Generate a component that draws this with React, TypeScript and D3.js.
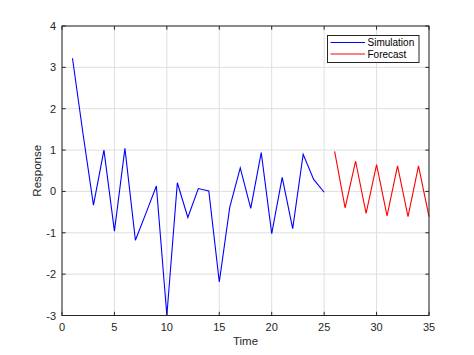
import React from "react";
import * as d3 from "d3";

const simTime = [1,2,3,4,5,6,7,8,9,10,11,12,13,14,15,16,17,18,19,20,21,22,23,24,25];
const simValues = [3.22,1.4,-0.33,1.0,-0.96,1.04,-1.18,-0.53,0.13,-3.0,0.21,-0.63,0.07,0.01,-2.19,-0.38,0.57,-0.41,0.94,-1.02,0.34,-0.9,0.9,0.29,-0.02];
const fcTime = [26,27,28,29,30,31,32,33,34,35];
const fcValues = [0.97,-0.4,0.73,-0.53,0.65,-0.59,0.62,-0.61,0.62,-0.61];
const xTicks = [0,5,10,15,20,25,30,35];
const yTicks = [-3,-2,-1,0,1,2,3,4];
const legendLabels = ["Simulation","Forecast"];
const seriesColors = ["#0000ff","#ff0000"];

const W = 474, H = 355;
const L = 62, R = 429, T = 26, B = 315.5;
const font = "'Liberation Sans', Arial, Helvetica, sans-serif";
const axisColor = "#262626";

export default function App() {
  const x = d3.scaleLinear().domain([0, 35]).range([L, R]);
  const y = d3.scaleLinear().domain([-3, 4]).range([B, T]);
  const line = d3.line<[number, number]>().x(d => x(d[0])).y(d => y(d[1]));
  const simPts = simTime.map((t, i) => [t, simValues[i]] as [number, number]);
  const fcPts = fcTime.map((t, i) => [t, fcValues[i]] as [number, number]);
  const tl = 3.7;
  const lx = 327.5, ly = 35.5, lw = 91.5, lh = 27;
  return (
    <svg width={W} height={H} style={{ position: "absolute", left: 0, top: 0 }}>
      <rect x={0} y={0} width={W} height={H} fill="#ffffff" />
      <rect x={L} y={T} width={R - L} height={B - T} fill="#ffffff" />
      {xTicks.map(v => (
        <line key={"gx" + v} x1={x(v)} x2={x(v)} y1={T} y2={B} stroke="#dfdfdf" strokeWidth={1} />
      ))}
      {yTicks.map(v => (
        <line key={"gy" + v} x1={L} x2={R} y1={y(v)} y2={y(v)} stroke="#dfdfdf" strokeWidth={1} />
      ))}
      <path d={line(simPts) || ""} fill="none" stroke={seriesColors[0]} strokeWidth={1.1} />
      <path d={line(fcPts) || ""} fill="none" stroke={seriesColors[1]} strokeWidth={1.1} />
      <rect x={L} y={T} width={R - L} height={B - T} fill="none" stroke={axisColor} strokeWidth={1} />
      {xTicks.map(v => (
        <g key={"tx" + v}>
          <line x1={x(v)} x2={x(v)} y1={B} y2={B - tl} stroke={axisColor} />
          <line x1={x(v)} x2={x(v)} y1={T} y2={T + tl} stroke={axisColor} />
          <text x={x(v)} y={B + 15} textAnchor="middle" fontFamily={font} fontSize={11} fill={axisColor}>{v}</text>
        </g>
      ))}
      {yTicks.map(v => (
        <g key={"ty" + v}>
          <line x1={L} x2={L + tl} y1={y(v)} y2={y(v)} stroke={axisColor} />
          <line x1={R} x2={R - tl} y1={y(v)} y2={y(v)} stroke={axisColor} />
          <text x={L - 6} y={y(v) + 4} textAnchor="end" fontFamily={font} fontSize={11} fill={axisColor}>{v}</text>
        </g>
      ))}
      <text x={(L + R) / 2} y={345} textAnchor="middle" fontFamily={font} fontSize={11.5} fill={axisColor}>Time</text>
      <text transform={`translate(41,${(T + B) / 2}) rotate(-90)`} textAnchor="middle" fontFamily={font} fontSize={11.5} fill={axisColor}>Response</text>
      <rect x={lx} y={ly} width={lw} height={lh} fill="#ffffff" stroke={axisColor} strokeWidth={1} />
      {legendLabels.map((lab, i) => (
        <g key={lab}>
          <line x1={lx + 3} x2={lx + 37.5} y1={ly + 7 + i * 11.5} y2={ly + 7 + i * 11.5} stroke={seriesColors[i]} strokeWidth={1} />
          <text x={lx + 40} y={ly + 10.5 + i * 11.5} fontFamily={font} fontSize={10} fill="#000">{lab}</text>
        </g>
      ))}
    </svg>
  );
}
